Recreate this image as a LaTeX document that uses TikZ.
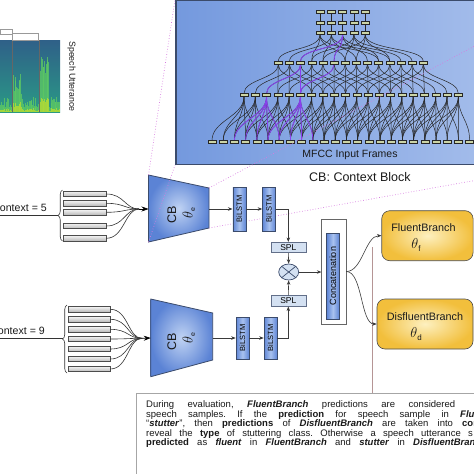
\documentclass[tikz,border=0pt]{standalone}
\usepackage{fontspec}
\setmainfont{Liberation Sans}
\usetikzlibrary{arrows.meta,decorations.pathreplacing,shapes.geometric}
\newcommand{\myfs}[1]{\fontsize{#1}{#1}\selectfont}
\definecolor{bigA}{HTML}{7499DE}
\definecolor{bigB}{HTML}{C6D6F2}
\definecolor{bigC}{HTML}{AFC5EE}
\definecolor{edge}{HTML}{3B4B6B}
\definecolor{cbA}{HTML}{5B83D5}
\definecolor{cbB}{HTML}{C0D3F3}
\definecolor{bilA}{HTML}{5F86D6}
\definecolor{bilB}{HTML}{A9C2EF}
\definecolor{spl}{HTML}{D4E1F2}
\definecolor{ylwin}{HTML}{FDF0C0}
\definecolor{ylwout}{HTML}{F2BF3C}
\definecolor{pinkc}{HTML}{D67BE0}
\definecolor{purp}{HTML}{8A40EE}
\definecolor{netbox}{HTML}{CBD4A6}
\definecolor{arrowc}{HTML}{3A3A3A}
\definecolor{spA}{HTML}{2F6088}
\definecolor{spM}{HTML}{267F8C}
\definecolor{spB}{HTML}{2A9A86}
\definecolor{spG}{HTML}{5CC863}
\definecolor{spY}{HTML}{C4E02A}
\definecolor{txt}{HTML}{1A1A1A}
\begin{document}
\begin{tikzpicture}[x=1pt,y=-1pt,
  netnode/.style={draw=black!85, line width=0.45, fill=netbox, minimum width=8, minimum height=3.2, inner sep=0, outer sep=0},
  netline/.style={draw=black!85, line width=0.5},
  purpline/.style={draw=purp, line width=0.8},
  pinkdot/.style={draw=pinkc, dotted, line width=0.7},
  conn/.style={draw=arrowc, line width=0.6, -{Stealth[length=4.5pt,width=3.5pt]}},
  fanline/.style={draw=black!80, line width=0.6},
  barbox/.style={draw=black!70, line width=0.5, top color=gray!10, bottom color=gray!55, minimum height=5.3, inner sep=0},
  bil/.style={draw=edge, line width=0.6, left color=bilA, right color=bilA, middle color=bilB, minimum width=13, minimum height=44, inner sep=0},
  splbox/.style={draw=edge!80, line width=0.6, fill=spl, minimum width=35, minimum height=10.5, inner sep=0, font=\myfs{8.5}},
  ybox/.style={draw=black!70, line width=0.6, rounded corners=8, inner color=ylwin, outer color=ylwout, inner sep=0},
  lbl/.style={inner sep=0, text=txt}
]
\useasboundingbox (0,0) rectangle (474,474);
\clip (0,0) rectangle (474,474);

% ---------- spectrogram ----------
\shade[top color=spA, middle color=spM, bottom color=spB] (0,40) rectangle (60,112);
\pgfmathsetseed{11}
\foreach \x in {0.5,1.3,...,59.9} {
  \pgfmathsetmacro{\h}{((\x>13)&&(\x<22)) ? 18+22*rnd : (((\x>40)&&(\x<49)) ? 35+25*rnd : 3+12*rnd)}
  \draw[draw=spG, line width=0.55, opacity=0.8] (\x,112) -- (\x,{112-\h});
  \draw[draw=spY, line width=0.55, opacity=0.7] (\x,112) -- (\x,{112-0.25*\h});
}
\draw[black!60, line width=0.5] (12,40) -- (12,112);
\draw[black!60, line width=0.5] (39,40) -- (39,112);
\draw[draw=black!40, fill=white, line width=0.4] (0,29) rectangle (12,34.5);
\draw[draw=black!40, fill=white, line width=0.4] (12,33.5) rectangle (38.5,40);
\node[lbl] (su) at (71.7,76.5) {\rotatebox{-90}{\myfs{8.8}Speech Utterance}};

% ---------- context block zoom ----------
\node[draw=edge, line width=1.5, left color=bigA, middle color=bigB, right color=bigC,
      minimum width=385, minimum height=164, anchor=south west, inner sep=0] (ctx) at (175,165) {};

\foreach \k in {0,...,24} {\node[netnode] (B\k) at ({212+11.2*\k},142) {};}
\foreach \j in {0,...,19} {\node[netnode] (L\j) at ({244+11.28*\j},95) {};}
\foreach \i in {0,...,13} {\node[netnode] (M\i) at ({278.3+11.15*\i},63) {};}
\foreach \t in {0,...,4} {
  \node[netnode] (T\t) at ({320+11.3*\t},33) {};
  \node[netnode] (U\t) at ({320+11.3*\t},22.5) {};
  \node[netnode] (V\t) at ({320+11.3*\t},12) {};
  \draw[netline] (V\t.south) -- (U\t.north);
  \draw[netline] (U\t.south) -- (T\t.north);
}
\foreach \j in {0,...,19} {\foreach \m in {0,...,4} {
  \pgfmathtruncatemacro{\kk}{\j+\m}
  \draw[netline] (L\j.south) .. controls +(0,20) and +(0,-20) .. (B\kk.north);
}}
\foreach \i in {0,...,13} {\foreach \m in {0,3,6} {
  \pgfmathtruncatemacro{\jj}{\i+\m}
  \draw[netline] (M\i.south) .. controls +(0,14) and +(0,-14) .. (L\jj.north);
}}
\foreach \t in {0,...,4} {\foreach \m in {0,3,6,9} {
  \pgfmathtruncatemacro{\ii}{\t+\m}
  \draw[netline] (T\t.south) .. controls +(0,16) and +(0,-14) .. (M\ii.north);
}}
% highlighted path
\draw[purpline] (T2.south) .. controls +(0,16) and +(0,-14) .. (M2.north);
\draw[purpline] (T2.south) .. controls +(0,16) and +(0,-14) .. (M5.north);
\draw[purpline] (M2.south) .. controls +(0,14) and +(0,-14) .. (L2.north);
\draw[purpline] (M2.south) .. controls +(0,14) and +(0,-14) .. (L5.north);
\draw[purpline] (M5.south) .. controls +(0,14) and +(0,-14) .. (L5.north);
\foreach \k in {2,...,6} {\draw[purpline] (L2.south) .. controls +(0,20) and +(0,-20) .. (B\k.north);}
\foreach \k in {5,...,9} {\draw[purpline] (L5.south) .. controls +(0,20) and +(0,-20) .. (B\k.north);}
% redraw boxes on top
\foreach \k in {0,...,24} {\node[netnode] at ({212+11.2*\k},142) {};}
\foreach \j in {0,...,19} {\node[netnode] at ({244+11.28*\j},95) {};}
\foreach \i in {0,...,13} {\node[netnode] at ({278.3+11.15*\i},63) {};}
\foreach \t in {0,...,4} {\node[netnode] at ({320+11.3*\t},33) {};\node[netnode] at ({320+11.3*\t},22.5) {};\node[netnode] at ({320+11.3*\t},12) {};}
\node[lbl, font=\myfs{10.5}] (mfcc) at (350,154.5) {MFCC Input Frames};
\node[lbl, anchor=west, font=\myfs{12.5}] (cbcap) at (309,177) {CB: Context Block};

% ---------- trapezoids ----------
\coordinate (c1tl) at (148.5,175); \coordinate (c1tr) at (209,188);
\coordinate (c1br) at (209,228);   \coordinate (c1bl) at (148.5,242);
\coordinate (c1in) at (148.5,209); \coordinate (c1out) at (209,209);
\path[draw=edge, line width=0.8, inner color=cbB, outer color=cbA] (c1tl) -- (c1tr) -- (c1br) -- (c1bl) -- cycle;
\coordinate (c2tl) at (150.7,299); \coordinate (c2tr) at (212.7,313);
\coordinate (c2br) at (212.7,360); \coordinate (c2bl) at (150.7,376.7);
\coordinate (c2in) at (150.7,338); \coordinate (c2out) at (212.7,338);
\path[draw=edge, line width=0.8, inner color=cbB, outer color=cbA] (c2tl) -- (c2tr) -- (c2br) -- (c2bl) -- cycle;
\node[lbl] (cb1) at (171.7,215) {\rotatebox{90}{\myfs{12.5}CB}};
\node[lbl] (th1) at (189,213) {\rotatebox{90}{\myfs{14}$\theta$\raisebox{-2.5pt}{\myfs{7}e}}};
\node[lbl] (cb2) at (171.7,341.5) {\rotatebox{90}{\myfs{12.5}CB}};
\node[lbl] (th2) at (189,338.5) {\rotatebox{90}{\myfs{14}$\theta$\raisebox{-2.5pt}{\myfs{7}e}}};

% ---------- pink projection lines ----------
\draw[pinkdot] (c1tl) -- (ctx.north west);
\draw[pinkdot] (c1bl) -- (ctx.south west);
\draw[pinkdot] (c1tr) -- (ctx.north east);
\draw[pinkdot] (c1br) -- (ctx.south east);

% ---------- context inputs ----------
\node[lbl, anchor=base east, font=\myfs{10.6}] (ctx5) at (47,211) {Context = 5};
\coordinate (l1) at (0,215.5); \coordinate (br1) at (58,215.5);
\draw[fanline] (l1) -- (br1);
\draw[fanline, decorate, decoration={brace, amplitude=4.5pt}] (62.5,241) -- (62.5,190);
\coordinate (conv1) at (139,209);
\foreach \y [count=\nn] in {194,203.3,212.3,226,238.3} {
  \node[barbox, minimum width=42.7] (a\nn) at (84.7,\y) {};
  \draw[fanline] (a\nn.east) .. controls +(18,0) and +(-14,0) .. (conv1);
}
\draw[line width=0.6, -{Stealth[length=7pt,width=5pt]}] (conv1) -- (c1in);

\node[lbl, anchor=base east, font=\myfs{10.6}] (ctx9) at (45,334) {Context = 9};
\coordinate (l2) at (0,338.5); \coordinate (br2) at (62.5,338.5);
\draw[fanline] (l2) -- (br2);
\draw[fanline, decorate, decoration={brace, amplitude=4.5pt}] (67,373) -- (67,305);
\coordinate (conv2) at (142,338.3);
\foreach \y [count=\nn] in {309.3,319.3,329.3,339,349,359,369} {
  \node[barbox, minimum width=41.7] (d\nn) at (89.2,\y) {};
  \draw[fanline] (d\nn.east) .. controls +(18,0) and +(-14,0) .. (conv2);
}
\draw[line width=0.6, -{Stealth[length=7pt,width=5pt]}] (conv2) -- (c2in);

% ---------- BiLSTM / SPL ----------
\node[bil] (b1) at (239.3,209) {\rotatebox{90}{\myfs{7.5}BiLSTM}};
\node[bil] (b2) at (269,209) {\rotatebox{90}{\myfs{7.5}BiLSTM}};
\node[bil, minimum height=42] (b3) at (242.5,338) {\rotatebox{90}{\myfs{7.5}BiLSTM}};
\node[bil, minimum height=42] (b4) at (270.5,338) {\rotatebox{90}{\myfs{7.5}BiLSTM}};
\node[splbox] (s1) at (288.3,247.5) {SPL};
\node[splbox] (s2) at (288.3,301) {SPL};
\node[draw=edge, line width=0.7, ellipse, fill=spl, minimum width=20, minimum height=16, inner sep=0] (ot) at (288.7,272) {};
\draw[draw=edge, line width=0.7] (ot.north west) -- (ot.south east);
\draw[draw=edge, line width=0.7] (ot.north east) -- (ot.south west);

\draw[conn] (c1out) -- (b1.west);
\draw[conn] (b1.east) -- (b2.west);
\draw[conn] (b2.east) -| (s1.north);
\draw[conn] (s1.south) -- (ot.north);
\draw[conn] (c2out) -- (b3.west);
\draw[conn] (b3.east) -- (b4.west);
\draw[conn] (b4.east) -| (s2.south);
\draw[conn] (s2.north) -- (ot.south);

% ---------- concatenation ----------
\node[draw=black!60, line width=0.7, fill=white, minimum width=24.3, minimum height=105, inner sep=0] (cc) at (333.9,271.5) {};
\node[bil, minimum width=12.3, minimum height=86] (ci) at (332.9,276) {\rotatebox{90}{\myfs{9}Concatenation}};
\draw[conn] (ot.east) -- (ot.east -| cc.west);

% ---------- branches ----------
\draw[draw=black!15!pink!60!gray, line width=0.5] (372,247) -- (372,393);
\node[ybox, minimum width=91.3, minimum height=50] (fb) at (427.4,235.7) {};
\node[ybox, minimum width=96, minimum height=50] (db) at (425,324) {};
\node[lbl, font=\myfs{10.8}] (fbt) at (423.4,228) {FluentBranch};
\node[lbl] (fbth) at (416,245) {\myfs{15}$\theta$\raisebox{-3pt}{\myfs{8}f}};
\node[lbl, font=\myfs{10.8}] (dbt) at (425,317) {DisfluentBranch};
\node[lbl] (dbth) at (416,334) {\myfs{15}$\theta$\raisebox{-3pt}{\myfs{8}d}};
\draw[conn] (cc.east) .. controls +(16,0) and +(-16,0) .. (fb.west);
\draw[conn] (cc.east) .. controls +(16,0) and +(-16,0) .. (db.west);

% ---------- text box ----------
\draw[draw=black!35, line width=0.7, fill=white] (136,393) rectangle (520,520);
\node[lbl, anchor=base west] (tl1) at (146,407.5) {\myfs{9.5}\hbox to 309pt{During\hfill evaluation,\hfill\textbf{\textit{FluentBranch}}\hfill predictions\hfill are\hfill considered}};
\node[lbl, anchor=base west] (tl2) at (146,417) {\myfs{9.5}\hbox to 314pt{speech\hfill samples.\hfill If\hfill the\hfill\textbf{prediction}\hfill for\hfill speech\hfill sample\hfill in\hfill\rlap{\textbf{\textit{FluentBranch}}}}};
\node[lbl, anchor=base west] (tl3) at (146,426.5) {\myfs{9.5}\hbox to 316pt{“\textbf{\textit{stutter}}”,\hfill then\hfill\textbf{predictions}\hfill of\hfill\textbf{\textit{DisfluentBranch}}\hfill are\hfill taken\hfill into\hfill\rlap{\textbf{consideration}}}};
\node[lbl, anchor=base west] (tl4) at (146,436) {\myfs{9.5}\hbox to 322pt{reveal\hfill the\hfill\textbf{type}\hfill of\hfill stuttering\hfill class.\hfill Otherwise\hfill a\hfill speech\hfill utterance\hfill\rlap{s}}};
\node[lbl, anchor=base west] (tl5) at (146,445.5) {\myfs{9.5}\hbox to 267pt{\textbf{predicted}\hfill as\hfill\textbf{\textit{fluent}}\hfill in\hfill\textbf{\textit{FluentBranch}}\hfill and\hfill\textbf{\textit{stutter}}\hfill in\hfill\rlap{\textbf{\textit{DisfluentBranch}}}}};
\end{tikzpicture}
\end{document}
